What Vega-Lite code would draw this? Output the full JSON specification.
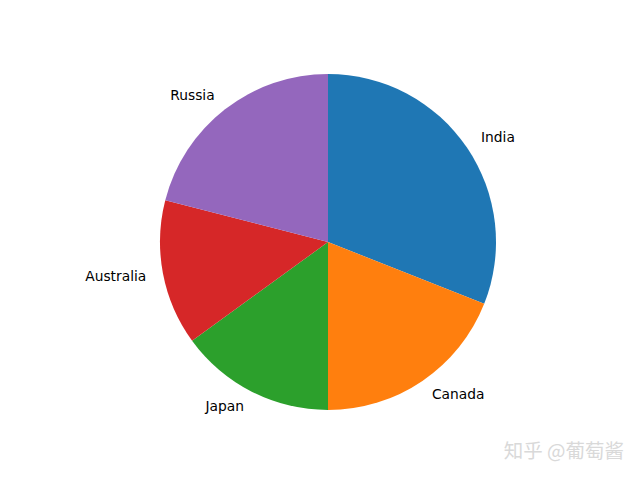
{
  "$schema": "https://vega.github.io/schema/vega-lite/v6.json",
  "width": 624,
  "height": 476,
  "padding": {"left": 16, "top": 4, "right": 0, "bottom": 0},
  "autosize": "none",
  "background": "white",
  "view": {"stroke": null},
  "title": {
    "text": "知乎 @葡萄酱",
    "orient": "bottom",
    "anchor": "end",
    "frame": "group",
    "offset": -37,
    "font": "Noto Sans CJK SC",
    "fontSize": 19.5,
    "fontWeight": "normal",
    "color": "#d9d9d9",
    "dx": -16
  },
  "data": {
    "values": [
      {"country": "India", "value": 31, "order": 1},
      {"country": "Canada", "value": 19, "order": 2},
      {"country": "Japan", "value": 15, "order": 3},
      {"country": "Australia", "value": 14, "order": 4},
      {"country": "Russia", "value": 21, "order": 5}
    ]
  },
  "transform": [
    {"stack": "value", "groupby": [], "sort": [{"field": "order", "order": "ascending"}], "as": ["v0", "v1"]},
    {"calculate": "(datum.v0 + datum.v1) / 2", "as": "mid"}
  ],
  "layer": [
    {
      "mark": {"type": "arc", "outerRadius": 168},
      "encoding": {
        "theta": {"field": "v0", "type": "quantitative", "stack": null, "scale": {"domain": [0, 100]}},
        "theta2": {"field": "v1"},
        "color": {
          "field": "country",
          "type": "nominal",
          "scale": {
            "domain": ["India", "Canada", "Japan", "Australia", "Russia"],
            "range": ["#1f77b4", "#ff7f0e", "#2ca02c", "#d62728", "#9467bd"]
          },
          "legend": null
        }
      }
    },
    {
      "transform": [{"filter": {"field": "country", "oneOf": ["India", "Canada"]}}],
      "mark": {"type": "text", "radius": 185, "align": "left", "baseline": "middle", "font": "DejaVu Sans", "fontSize": 13.8, "color": "black"},
      "encoding": {
        "theta": {"field": "mid", "type": "quantitative", "stack": null},
        "text": {"field": "country"}
      }
    },
    {
      "transform": [{"filter": {"field": "country", "oneOf": ["Japan", "Australia", "Russia"]}}],
      "mark": {"type": "text", "radius": 185, "align": "right", "baseline": "middle", "font": "DejaVu Sans", "fontSize": 13.8, "color": "black"},
      "encoding": {
        "theta": {"field": "mid", "type": "quantitative", "stack": null},
        "text": {"field": "country"}
      }
    }
  ]
}
